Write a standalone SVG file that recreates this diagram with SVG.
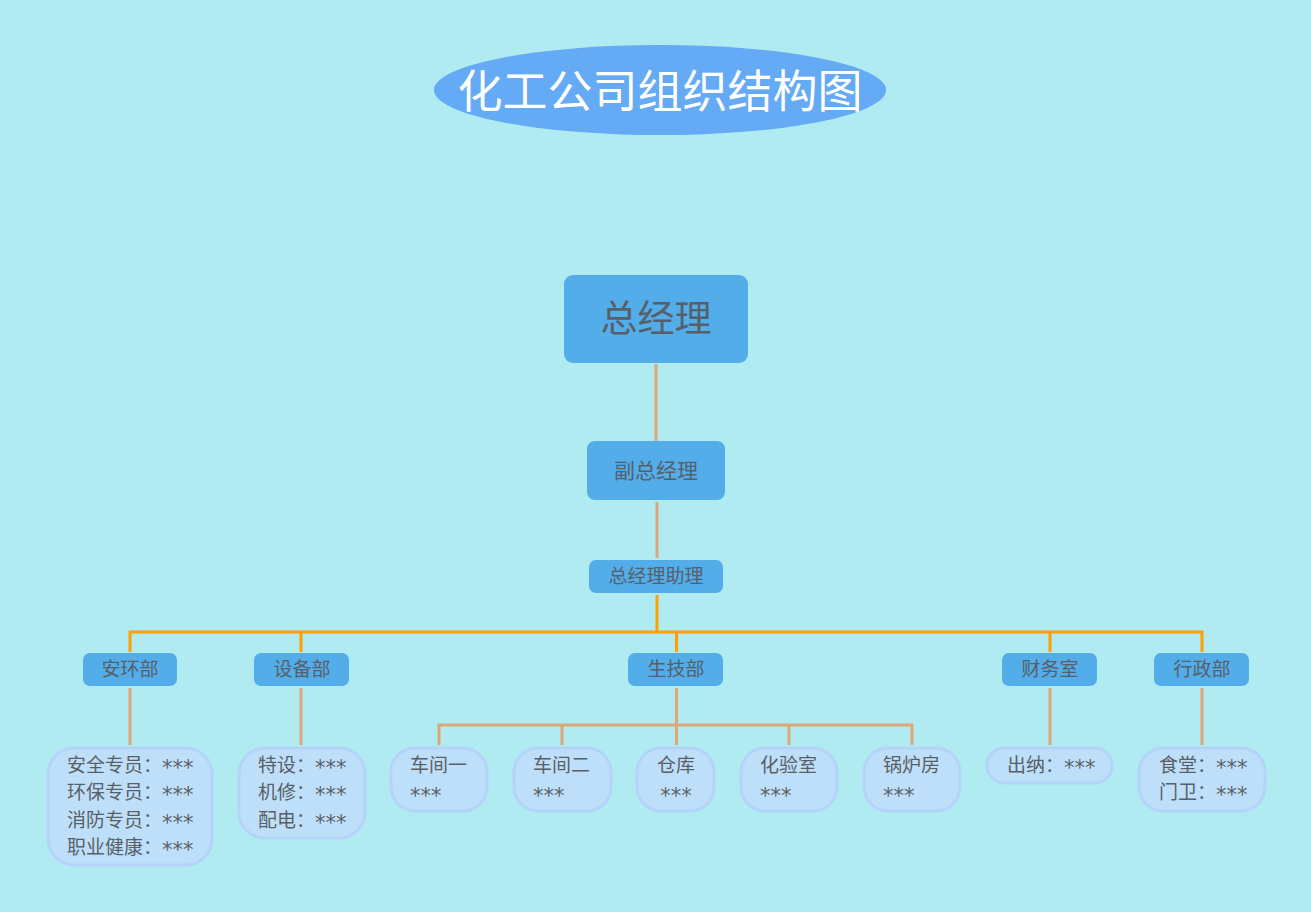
<svg xmlns="http://www.w3.org/2000/svg" width="1311" height="912" viewBox="0 0 1311 912">
<style>
.box{fill:#52ADE8}
.leaf{fill:#BDDFFA;stroke:#B3D3F8;stroke-width:3}
.t{font-family:"Noto Sans CJK SC","Noto Sans",sans-serif;fill:#56606a}
.lt{font-family:"Noto Sans CJK SC","Noto Sans",sans-serif;fill:#5a5f66;font-size:19px}
.a{font-family:"DejaVu Sans",sans-serif;font-size:21px}
.c1{stroke:#DDA77C;stroke-width:3;fill:none}
.c2{stroke:#FF9F00;stroke-width:3;fill:none}
</style>
<rect width="1311" height="912" fill="#B1EBF2"/>
<g id="title">
<ellipse cx="660" cy="90" rx="226" ry="45" fill="#64AAF5"/>
<text x="660" y="108" text-anchor="middle" font-family="Noto Sans CJK SC, sans-serif" font-size="45" fill="#ffffff">化工公司组织结构图</text>
</g>
<g id="connectors">
<line class="c1" x1="656" y1="364" x2="656" y2="441"/>
<line class="c1" x1="657" y1="502" x2="657" y2="558"/>
<line class="c2" x1="657" y1="595" x2="657" y2="632" stroke-width="4"/>
<polyline class="c2" points="130,652 130,632 1202,632 1202,652"/>
<line class="c2" x1="301" y1="632" x2="301" y2="652"/>
<line class="c2" x1="676.5" y1="632" x2="676.5" y2="652" stroke-width="2.5"/>
<line class="c2" x1="1050" y1="632" x2="1050" y2="652"/>
<line class="c1" x1="130" y1="688" x2="130" y2="745"/>
<line class="c1" x1="301" y1="688" x2="301" y2="745"/>
<line class="c1" x1="1050" y1="688" x2="1050" y2="745"/>
<line class="c1" x1="1202" y1="688" x2="1202" y2="745"/>
<line class="c1" x1="676.5" y1="688" x2="676.5" y2="745"/>
<polyline class="c1" points="439,745 439,725 912,725 912,745"/>
<line class="c1" x1="562" y1="725" x2="562" y2="745"/>
<line class="c1" x1="789" y1="725" x2="789" y2="745"/>
</g>
<g id="gm"><rect class="box" x="564" y="275" width="184" height="88" rx="9"/><text class="t" x="656" y="332" text-anchor="middle" font-size="37">总经理</text></g>
<g id="vgm"><rect class="box" x="587" y="441" width="138" height="59" rx="8"/><text class="t" x="656" y="478" text-anchor="middle" font-size="21">副总经理</text></g>
<g id="assist"><rect class="box" x="589" y="560" width="134" height="33" rx="7"/><text class="t" x="656" y="583" text-anchor="middle" font-size="19">总经理助理</text></g>
<g id="anhuan"><rect class="box" x="83" y="653" width="94" height="33" rx="7"/><text class="t" x="130" y="676" text-anchor="middle" font-size="19">安环部</text></g>
<g id="shebei"><rect class="box" x="254" y="653" width="95" height="33" rx="7"/><text class="t" x="302" y="676" text-anchor="middle" font-size="19">设备部</text></g>
<g id="shengji"><rect class="box" x="628" y="653" width="95" height="33" rx="7"/><text class="t" x="676" y="676" text-anchor="middle" font-size="19">生技部</text></g>
<g id="caiwu"><rect class="box" x="1002" y="653" width="95" height="33" rx="7"/><text class="t" x="1050" y="676" text-anchor="middle" font-size="19">财务室</text></g>
<g id="xingzheng"><rect class="box" x="1154" y="653" width="95" height="33" rx="7"/><text class="t" x="1202" y="676" text-anchor="middle" font-size="19">行政部</text></g>
<g id="anhuan-staff"><rect class="leaf" x="48" y="748" width="164" height="117" rx="26"/>
<text class="lt" x="67" y="772">安全专员：<tspan class="a" dy="3">***</tspan></text>
<text class="lt" x="67" y="799">环保专员：<tspan class="a" dy="3">***</tspan></text>
<text class="lt" x="67" y="827">消防专员：<tspan class="a" dy="3">***</tspan></text>
<text class="lt" x="67" y="854">职业健康：<tspan class="a" dy="3">***</tspan></text></g>
<g id="shebei-staff"><rect class="leaf" x="239" y="748" width="126" height="90" rx="26"/>
<text class="lt" x="258" y="772">特设：<tspan class="a" dy="3">***</tspan></text>
<text class="lt" x="258" y="799">机修：<tspan class="a" dy="3">***</tspan></text>
<text class="lt" x="258" y="827">配电：<tspan class="a" dy="3">***</tspan></text></g>
<g id="chejian1"><rect class="leaf" x="391" y="748" width="96" height="63" rx="24"/>
<text class="lt" x="410" y="772">车间一</text><text class="lt a" x="410" y="803">***</text></g>
<g id="chejian2"><rect class="leaf" x="514" y="748" width="97" height="63" rx="24"/>
<text class="lt" x="533" y="772">车间二</text><text class="lt a" x="533" y="803">***</text></g>
<g id="cangku"><rect class="leaf" x="637" y="748" width="77" height="63" rx="24"/>
<text class="lt" x="676" y="772" text-anchor="middle">仓库</text><text class="lt a" x="676" y="803" text-anchor="middle">***</text></g>
<g id="huayan"><rect class="leaf" x="741" y="748" width="96" height="63" rx="24"/>
<text class="lt" x="760" y="772">化验室</text><text class="lt a" x="760" y="803">***</text></g>
<g id="guolu"><rect class="leaf" x="864" y="748" width="96" height="63" rx="24"/>
<text class="lt" x="883" y="772">锅炉房</text><text class="lt a" x="883" y="803">***</text></g>
<g id="chuna"><rect class="leaf" x="987" y="748" width="125" height="35" rx="17"/>
<text class="lt" x="1007" y="772">出纳：<tspan class="a" dy="3">***</tspan></text></g>
<g id="xingzheng-staff"><rect class="leaf" x="1139" y="748" width="126" height="63" rx="24"/>
<text class="lt" x="1159" y="772">食堂：<tspan class="a" dy="3">***</tspan></text>
<text class="lt" x="1159" y="799">门卫：<tspan class="a" dy="3">***</tspan></text></g>
</svg>
